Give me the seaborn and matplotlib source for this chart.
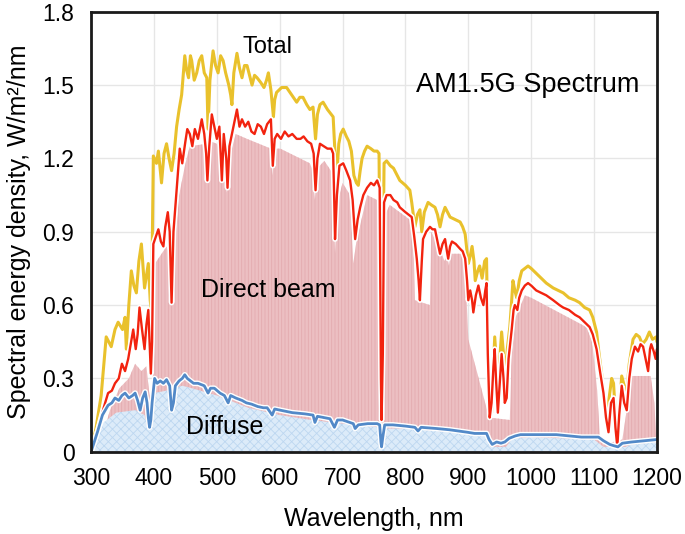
import numpy as np
import pandas as pd
import matplotlib
matplotlib.use("Agg")
import matplotlib.pyplot as plt
import matplotlib.patheffects as pe
import seaborn as sns

# Valores (comprimento de onda em nm, densidade em W/m2/nm)
total_wl = [300, 308, 316, 324, 332, 338, 343, 350, 354, 356, 360, 364, 368, 372, 376, 380, 385, 391, 394, 396,
            399, 404, 407, 412, 416, 420, 424, 428, 432, 436, 440, 444, 449, 452, 455, 458, 460, 464, 468, 472,
            476, 480, 484, 486, 489, 494, 498, 502, 506, 510, 514, 519, 522, 524, 527, 532, 536, 540, 544, 548,
            552, 556, 560, 564, 570, 575, 579, 582, 586, 590, 592, 595, 603, 611, 619, 627, 632, 637, 643, 648,
            653, 657, 660, 664, 669, 676, 685, 688, 691, 694, 697, 701, 706, 710, 714, 718, 722, 725, 728, 731,
            735, 739, 745, 750, 755, 758, 760, 762, 764, 766, 770, 776, 781, 787, 791, 800, 807, 810, 815, 819,
            823, 826, 830, 836, 841, 847, 851, 855, 859, 863, 867, 871, 879, 887, 891, 895, 898, 900, 903, 906,
            909, 911, 915, 918, 922, 926, 929, 932, 935, 937, 940, 942, 945, 947, 950, 953, 956, 958, 962, 966,
            969, 971, 974, 977, 981, 985, 990, 995, 1000, 1008, 1016, 1024, 1035, 1051, 1060, 1070, 1077, 1085, 1093, 1098,
            1104, 1108, 1112, 1116, 1120, 1124, 1128, 1131, 1134, 1138, 1141, 1144, 1148, 1152, 1156, 1162, 1167, 1172, 1177, 1183,
            1188, 1193, 1199, 1200]
total_val = [0.0, 0.10, 0.23, 0.47, 0.43, 0.50, 0.53, 0.50, 0.55, 0.42, 0.60, 0.74, 0.68, 0.65, 0.78, 0.85, 0.67, 0.77, 0.62, 0.57,
             1.21, 1.18, 1.23, 1.10, 1.22, 1.26, 1.20, 1.15, 1.22, 1.33, 1.40, 1.46, 1.62, 1.56, 1.53, 1.62, 1.60, 1.52, 1.55, 1.60,
             1.62, 1.55, 1.53, 1.32, 1.52, 1.64, 1.58, 1.55, 1.62, 1.60, 1.55, 1.50, 1.46, 1.42, 1.55, 1.63, 1.57, 1.53, 1.58, 1.58,
             1.54, 1.50, 1.54, 1.53, 1.51, 1.49, 1.52, 1.55, 1.48, 1.37, 1.44, 1.47, 1.49, 1.49, 1.46, 1.43, 1.45, 1.45, 1.42, 1.40,
             1.41, 1.28, 1.38, 1.42, 1.43, 1.40, 1.37, 1.22, 1.14, 1.26, 1.30, 1.32, 1.29, 1.27, 1.23, 1.13, 1.10, 1.09, 1.15, 1.20,
             1.23, 1.25, 1.24, 1.23, 1.23, 1.22, 0.60, 0.40, 0.70, 1.18, 1.19, 1.17, 1.16, 1.13, 1.11, 1.09, 1.07, 1.02, 0.92, 0.97,
             0.99, 0.90, 0.98, 1.02, 1.01, 1.00, 0.97, 0.92, 0.97, 1.00, 0.98, 0.96, 0.95, 0.94, 0.92, 0.89, 0.82, 0.77, 0.80, 0.84,
             0.78, 0.70, 0.74, 0.76, 0.71, 0.78, 0.79, 0.28, 0.20, 0.16, 0.35, 0.47, 0.35, 0.24, 0.38, 0.49, 0.40, 0.28, 0.42, 0.51,
             0.62, 0.70, 0.66, 0.63, 0.70, 0.74, 0.75, 0.76, 0.75, 0.73, 0.71, 0.69, 0.67, 0.65, 0.63, 0.62, 0.61, 0.59, 0.58, 0.55,
             0.49, 0.40, 0.32, 0.22, 0.13, 0.22, 0.30, 0.28, 0.15, 0.04, 0.20, 0.31, 0.27, 0.24, 0.36, 0.46, 0.48, 0.47, 0.44, 0.46,
             0.49, 0.46, 0.47, 0.45]

direct_wl = [300, 311, 320, 327, 333, 338, 344, 349, 354, 359, 363, 367, 371, 374, 377, 381, 385, 388, 391, 393,
             395, 397, 399, 403, 407, 411, 415, 418, 422, 425, 428, 431, 436, 441, 445, 450, 453, 457, 461, 465,
             470, 476, 480, 483, 485, 488, 492, 496, 500, 504, 508, 511, 515, 517, 520, 524, 528, 532, 536, 540,
             545, 550, 555, 560, 565, 570, 575, 580, 586, 589, 592, 596, 602, 608, 614, 620, 627, 633, 638, 644,
             650, 654, 657, 660, 664, 670, 676, 682, 685, 687, 688, 691, 695, 701, 706, 712, 716, 720, 724, 728,
             733, 739, 745, 750, 755, 759, 761, 762, 764, 766, 770, 776, 781, 787, 791, 800, 810, 814, 818, 821,
             823, 826, 828, 833, 839, 843, 847, 851, 855, 859, 863, 866, 868, 871, 874, 880, 887, 891, 895, 898,
             900, 903, 906, 908, 912, 916, 920, 924, 927, 929, 931, 934, 937, 940, 942, 944, 947, 950, 953, 956,
             958, 961, 964, 969, 972, 974, 978, 981, 985, 990, 995, 1000, 1008, 1016, 1024, 1035, 1045, 1051, 1060, 1070,
             1077, 1085, 1093, 1098, 1104, 1110, 1115, 1119, 1123, 1127, 1131, 1134, 1137, 1140, 1144, 1148, 1152, 1156, 1160, 1165,
             1170, 1174, 1178, 1182, 1186, 1189, 1191, 1195, 1198, 1200]
direct_val = [0.0, 0.09, 0.18, 0.24, 0.25, 0.28, 0.30, 0.36, 0.33, 0.38, 0.44, 0.50, 0.42, 0.48, 0.59, 0.50, 0.42, 0.52, 0.58, 0.45,
              0.32, 0.45, 0.85, 0.88, 0.91, 0.86, 0.84, 0.92, 0.98, 0.90, 0.61, 0.90, 1.07, 1.24, 1.18, 1.27, 1.32, 1.30, 1.25, 1.32,
              1.28, 1.36, 1.30, 1.22, 1.11, 1.25, 1.38, 1.33, 1.28, 1.33, 1.11, 1.30, 1.20, 1.08, 1.25, 1.30, 1.35, 1.40, 1.33, 1.36,
              1.33, 1.35, 1.31, 1.30, 1.34, 1.33, 1.30, 1.34, 1.36, 1.17, 1.28, 1.30, 1.28, 1.31, 1.29, 1.30, 1.28, 1.28, 1.29, 1.27,
              1.26, 1.22, 1.07, 1.20, 1.26, 1.25, 1.24, 1.24, 1.22, 1.00, 0.87, 1.05, 1.17, 1.18, 1.15, 1.11, 1.03, 0.87, 0.95, 1.00,
              1.05, 1.08, 1.10, 1.09, 1.11, 1.08, 0.30, 0.13, 0.40, 1.02, 1.05, 1.05, 1.03, 1.02, 1.00, 0.98, 0.96, 0.88, 0.79, 0.70,
              0.62, 0.78, 0.87, 0.90, 0.92, 0.91, 0.91, 0.86, 0.81, 0.85, 0.87, 0.82, 0.79, 0.84, 0.86, 0.85, 0.83, 0.82, 0.79, 0.70,
              0.62, 0.66, 0.62, 0.57, 0.64, 0.68, 0.63, 0.60, 0.66, 0.69, 0.40, 0.14, 0.20, 0.35, 0.42, 0.30, 0.16, 0.28, 0.40, 0.30,
              0.20, 0.22, 0.38, 0.50, 0.58, 0.60, 0.58, 0.63, 0.66, 0.68, 0.69, 0.68, 0.66, 0.65, 0.64, 0.62, 0.60, 0.59, 0.58, 0.56,
              0.55, 0.53, 0.51, 0.48, 0.42, 0.32, 0.24, 0.14, 0.08, 0.20, 0.22, 0.10, 0.02, 0.15, 0.27, 0.20, 0.17, 0.30, 0.38, 0.43,
              0.41, 0.44, 0.43, 0.38, 0.33, 0.42, 0.44, 0.41, 0.38, 0.42]

# topo da area rosa (feixe direto)
beam_fill_wl = [300, 320, 330, 345, 360, 370, 380, 388, 392, 396, 398, 399, 420, 426, 428, 431, 440, 450, 457, 484,
                487, 490, 500, 508, 512, 516, 520, 530, 548, 586, 588, 592, 601, 648, 651, 656, 660, 671, 684, 688,
                692, 700, 712, 717, 722, 739, 755, 759, 761, 762, 764, 766, 775, 812, 815, 839, 841, 855, 862, 866,
                869, 872, 889, 895, 900, 933, 966, 969, 975, 990, 1000, 1088, 1097, 1105, 1109, 1115, 1145, 1160, 1190, 1196,
                1199, 1200]
beam_fill_val = [0.0, 0.08, 0.17, 0.26, 0.30, 0.36, 0.33, 0.35, 0.25, 0.20, 0.25, 0.76, 0.84, 0.80, 0.62, 0.80, 1.05, 1.18, 1.25, 1.26,
                 1.09, 1.27, 1.26, 1.22, 1.15, 1.06, 1.20, 1.30, 1.28, 1.24, 1.13, 1.24, 1.24, 1.18, 1.16, 1.03, 1.16, 1.19, 1.14, 0.81,
                 1.02, 1.10, 1.05, 0.77, 0.86, 1.05, 1.03, 1.00, 0.40, 0.13, 0.40, 0.96, 1.01, 0.94, 0.62, 0.60, 0.90, 0.83, 0.78, 0.81,
                 0.76, 0.81, 0.81, 0.76, 0.46, 0.14, 0.13, 0.40, 0.55, 0.64, 0.63, 0.51, 0.45, 0.25, 0.07, 0.03, 0.05, 0.31, 0.31, 0.20,
                 0.04, 0.04]

diffuse_wl = [300, 310, 318, 327, 333, 338, 344, 349, 354, 360, 366, 370, 374, 378, 382, 386, 389, 391, 393, 395,
              397, 401, 405, 410, 415, 420, 425, 428, 431, 434, 440, 445, 449, 453, 458, 463, 470, 480, 486, 490,
              496, 505, 512, 518, 522, 530, 540, 547, 555, 565, 574, 580, 588, 592, 601, 620, 640, 653, 656, 660,
              680, 687, 692, 700, 717, 720, 725, 740, 755, 759, 761, 762, 764, 767, 780, 800, 815, 820, 825, 850,
              870, 898, 910, 929, 933, 938, 945, 952, 958, 965, 975, 983, 1000, 1040, 1080, 1107, 1115, 1125, 1131, 1138,
              1145, 1160, 1180, 1200]
diffuse_val = [0.0, 0.08, 0.15, 0.19, 0.20, 0.22, 0.21, 0.23, 0.24, 0.22, 0.23, 0.24, 0.21, 0.17, 0.22, 0.245, 0.20, 0.14, 0.10, 0.13,
               0.20, 0.30, 0.28, 0.29, 0.28, 0.295, 0.27, 0.17, 0.20, 0.27, 0.29, 0.30, 0.315, 0.30, 0.29, 0.28, 0.28, 0.27, 0.24, 0.26,
               0.26, 0.24, 0.23, 0.20, 0.23, 0.22, 0.21, 0.20, 0.195, 0.185, 0.18, 0.18, 0.15, 0.175, 0.17, 0.16, 0.155, 0.15, 0.12, 0.145,
               0.135, 0.10, 0.13, 0.13, 0.115, 0.095, 0.11, 0.115, 0.115, 0.11, 0.04, 0.02, 0.06, 0.11, 0.11, 0.105, 0.10, 0.085, 0.10, 0.095,
               0.09, 0.08, 0.075, 0.075, 0.05, 0.03, 0.04, 0.035, 0.04, 0.055, 0.065, 0.07, 0.07, 0.07, 0.06, 0.06, 0.045, 0.03, 0.025, 0.02,
               0.035, 0.04, 0.045, 0.05]

# topo da area azul (difusa)
diff_fill_wl = [300, 320, 340, 370, 385, 390, 395, 400, 420, 445, 460, 500, 550, 600, 650, 700, 760, 765, 800, 850,
                900, 930, 935, 960, 970, 1000, 1100, 1115, 1150, 1160, 1200]
diff_fill_val = [0.0, 0.12, 0.16, 0.17, 0.15, 0.10, 0.09, 0.24, 0.25, 0.27, 0.26, 0.23, 0.18, 0.15, 0.13, 0.115, 0.10, 0.095, 0.095, 0.085,
                 0.075, 0.07, 0.02, 0.02, 0.055, 0.06, 0.05, 0.02, 0.02, 0.03, 0.04]

x_ticks = [300, 400, 500, 600, 700, 800, 900, 1000, 1100, 1200]
y_ticks = [0, 0.3, 0.6, 0.9, 1.2, 1.5, 1.8]
y_tick_labels = ['0', '0.3', '0.6', '0.9', '1.2', '1.5', '1.8']

sns.set_style("white")
plt.rcParams['font.family'] = ['Liberation Sans', 'DejaVu Sans']
plt.rcParams['hatch.linewidth'] = 0.6

fig = plt.figure(figsize=(6.85, 5.34), dpi=100)
ax = fig.add_axes([0.133, 0.154, 0.826, 0.824])

# areas preenchidas
ax.fill_between(beam_fill_wl, 0, beam_fill_val, facecolor='#ECBFC2', edgecolor='#E4AAAF',
                hatch='|||||', linewidth=0, zorder=1)
ax.fill_between(diff_fill_wl, 0, diff_fill_val, facecolor='#DCEBF9', edgecolor='#BDD7F0',
                hatch='xxxx', linewidth=0, zorder=2)

halo = [pe.Stroke(linewidth=4, foreground='white'), pe.Normal()]
df_total = pd.DataFrame({'wl': total_wl, 'val': total_val})
df_direct = pd.DataFrame({'wl': direct_wl, 'val': direct_val})
df_diffuse = pd.DataFrame({'wl': diffuse_wl, 'val': diffuse_val})
sns.lineplot(data=df_total, x='wl', y='val', color='#E9C12C', lw=2.2, ax=ax, zorder=3)
sns.lineplot(data=df_direct, x='wl', y='val', color='#F2230F', lw=1.7, ax=ax, zorder=4,
             path_effects=halo)
sns.lineplot(data=df_diffuse, x='wl', y='val', color='#5289C8', lw=2, ax=ax, zorder=5,
             path_effects=halo)

ax.set_xlim(300, 1200)
ax.set_ylim(0, 1.8)
ax.set_xticks(x_ticks)
ax.set_yticks(y_ticks)
ax.set_yticklabels(y_tick_labels)
ax.grid(True, color='#E6E6E6', lw=1)
ax.set_axisbelow(True)
ax.tick_params(axis='x', length=0, labelsize=16.5, pad=11, colors='black')
ax.tick_params(axis='y', length=0, labelsize=16.5, pad=12, colors='black')
for s in ax.spines.values():
    s.set_color('#1A1A1A')
    s.set_linewidth(2)
    s.set_zorder(10)

ax.set_xlabel('Wavelength, nm', fontsize=18, labelpad=12, color='black')
ax.set_ylabel('Spectral energy density, W/m²/nm', fontsize=18, labelpad=8, color='black')

ax.text(581, 1.655, 'Total', fontsize=17, ha='center', va='center', color='black', zorder=6)
ax.text(995, 1.50, 'AM1.5G Spectrum', fontsize=19.5, ha='center', va='center', color='black', zorder=6)
ax.text(581, 0.66, 'Direct beam', fontsize=18, ha='center', va='center', color='black', zorder=6)
ax.text(513, 0.10, 'Diffuse', fontsize=18, ha='center', va='center', color='black', zorder=6)

plt.savefig('out.png', dpi=100)
